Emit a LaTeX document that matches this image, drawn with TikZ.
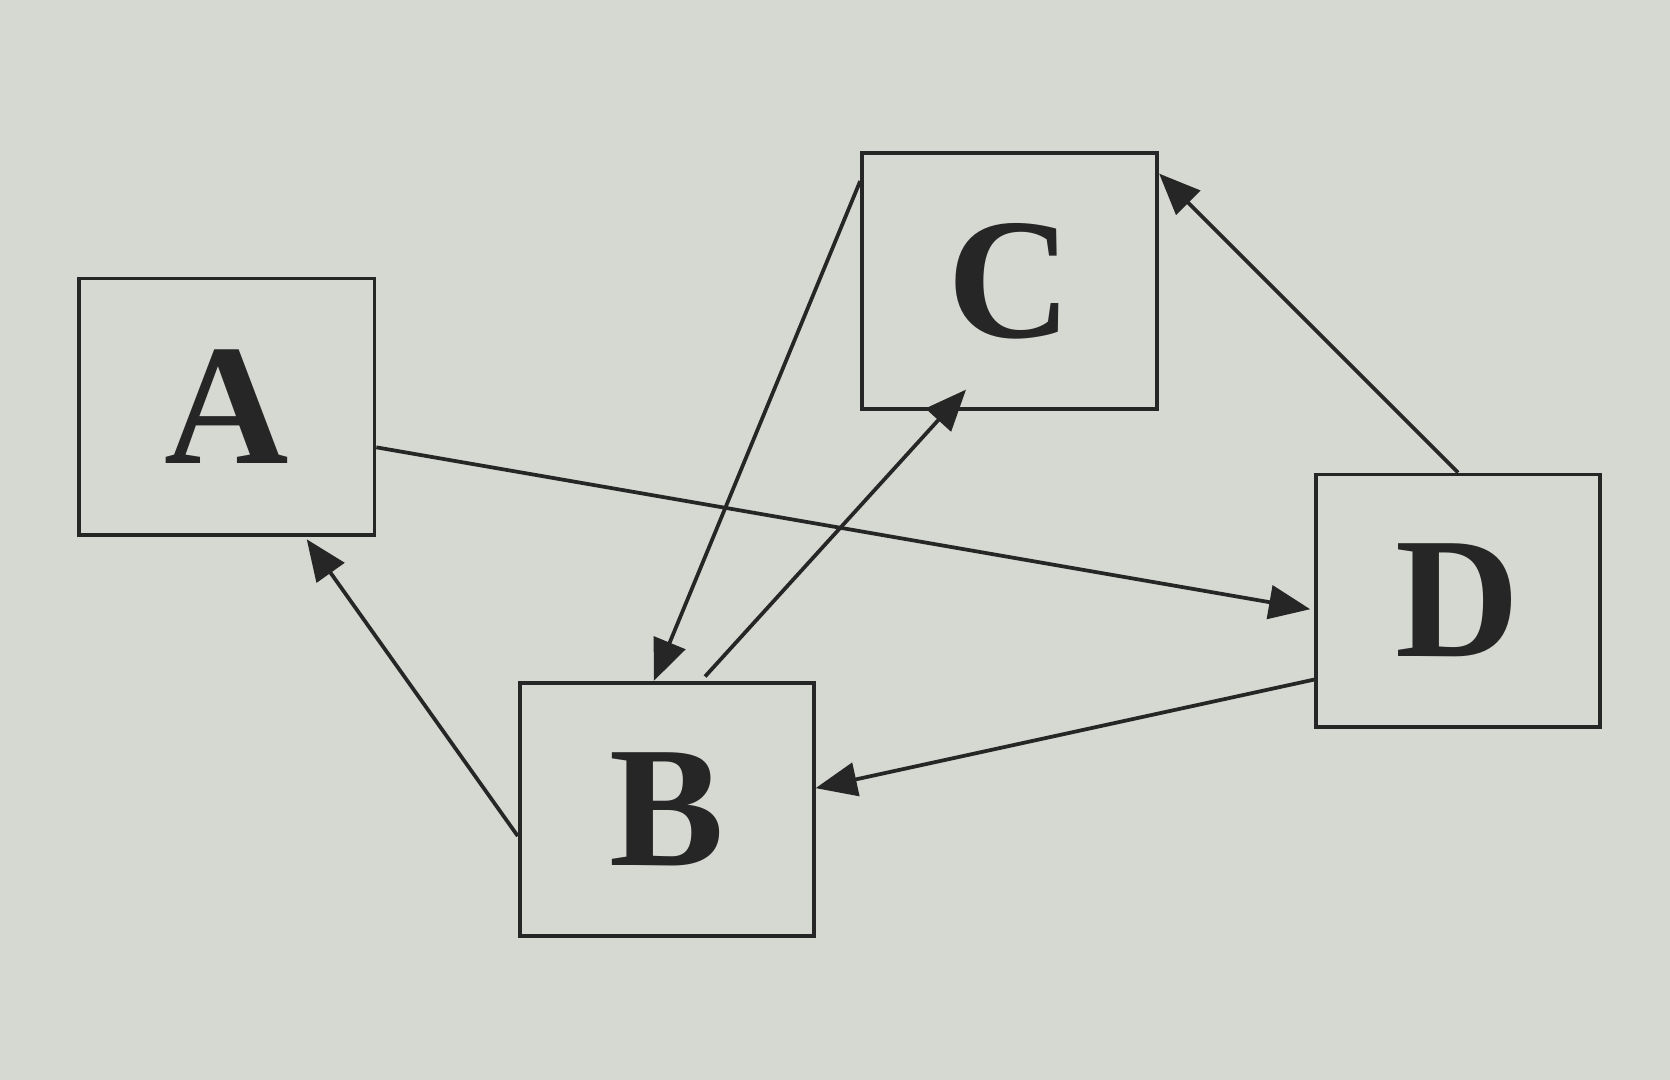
\documentclass[tikz,border=0pt]{standalone}
\usepackage{fontspec}
\setmainfont{Liberation Serif}
\usetikzlibrary{arrows.meta,calc}
\begin{document}
\begin{tikzpicture}[x=0.01cm,y=-0.01cm]
        \fill[fill={rgb,255:red,214;green,216;blue,210}] (0,0) rectangle (1568,1014);
        \useasboundingbox (0,0) rectangle (1568,1014);
        \begin{scope}[every node/.style={draw=black!85,line width=1pt,inner sep=0pt,font=\fontsize{46}{50}\selectfont\bfseries,text=black!85}]
            \node[minimum width=2.77cm,minimum height=2.41cm] (A) at (213,382) {A};
            \node[minimum width=2.76cm,minimum height=2.38cm] (B) at (626,760) {B};
            \node[minimum width=2.77cm,minimum height=2.40cm] (C) at (948,264) {C};
            \node[minimum width=2.66cm,minimum height=2.37cm] (D) at (1369,564) {D};
        \end{scope}
        \begin{scope}[every edge/.style={draw=black!85,line width=1pt,-{Triangle[length=11pt,width=9pt]}}]
            \path ($(A.east)+(0,38)$) edge ($(D.west)+(-4,8)$);
            \path ($(B.west)+(0,25)$) edge ($(A.south)+(75,2)$);
            \path ($(C.west)+(0,-94)$) edge ($(B.north)+(-12,0)$);
            \path ($(B.north)+(36,-4)$) edge ($(C.south)+(-41,-20)$);
            \path (D.north) edge ($(C.east)+(0,-101)$);
            \path ($(D.west)+(0,74)$) edge ($(B.east)+(0,-20)$);
        \end{scope}
    \end{tikzpicture}
\end{document}
